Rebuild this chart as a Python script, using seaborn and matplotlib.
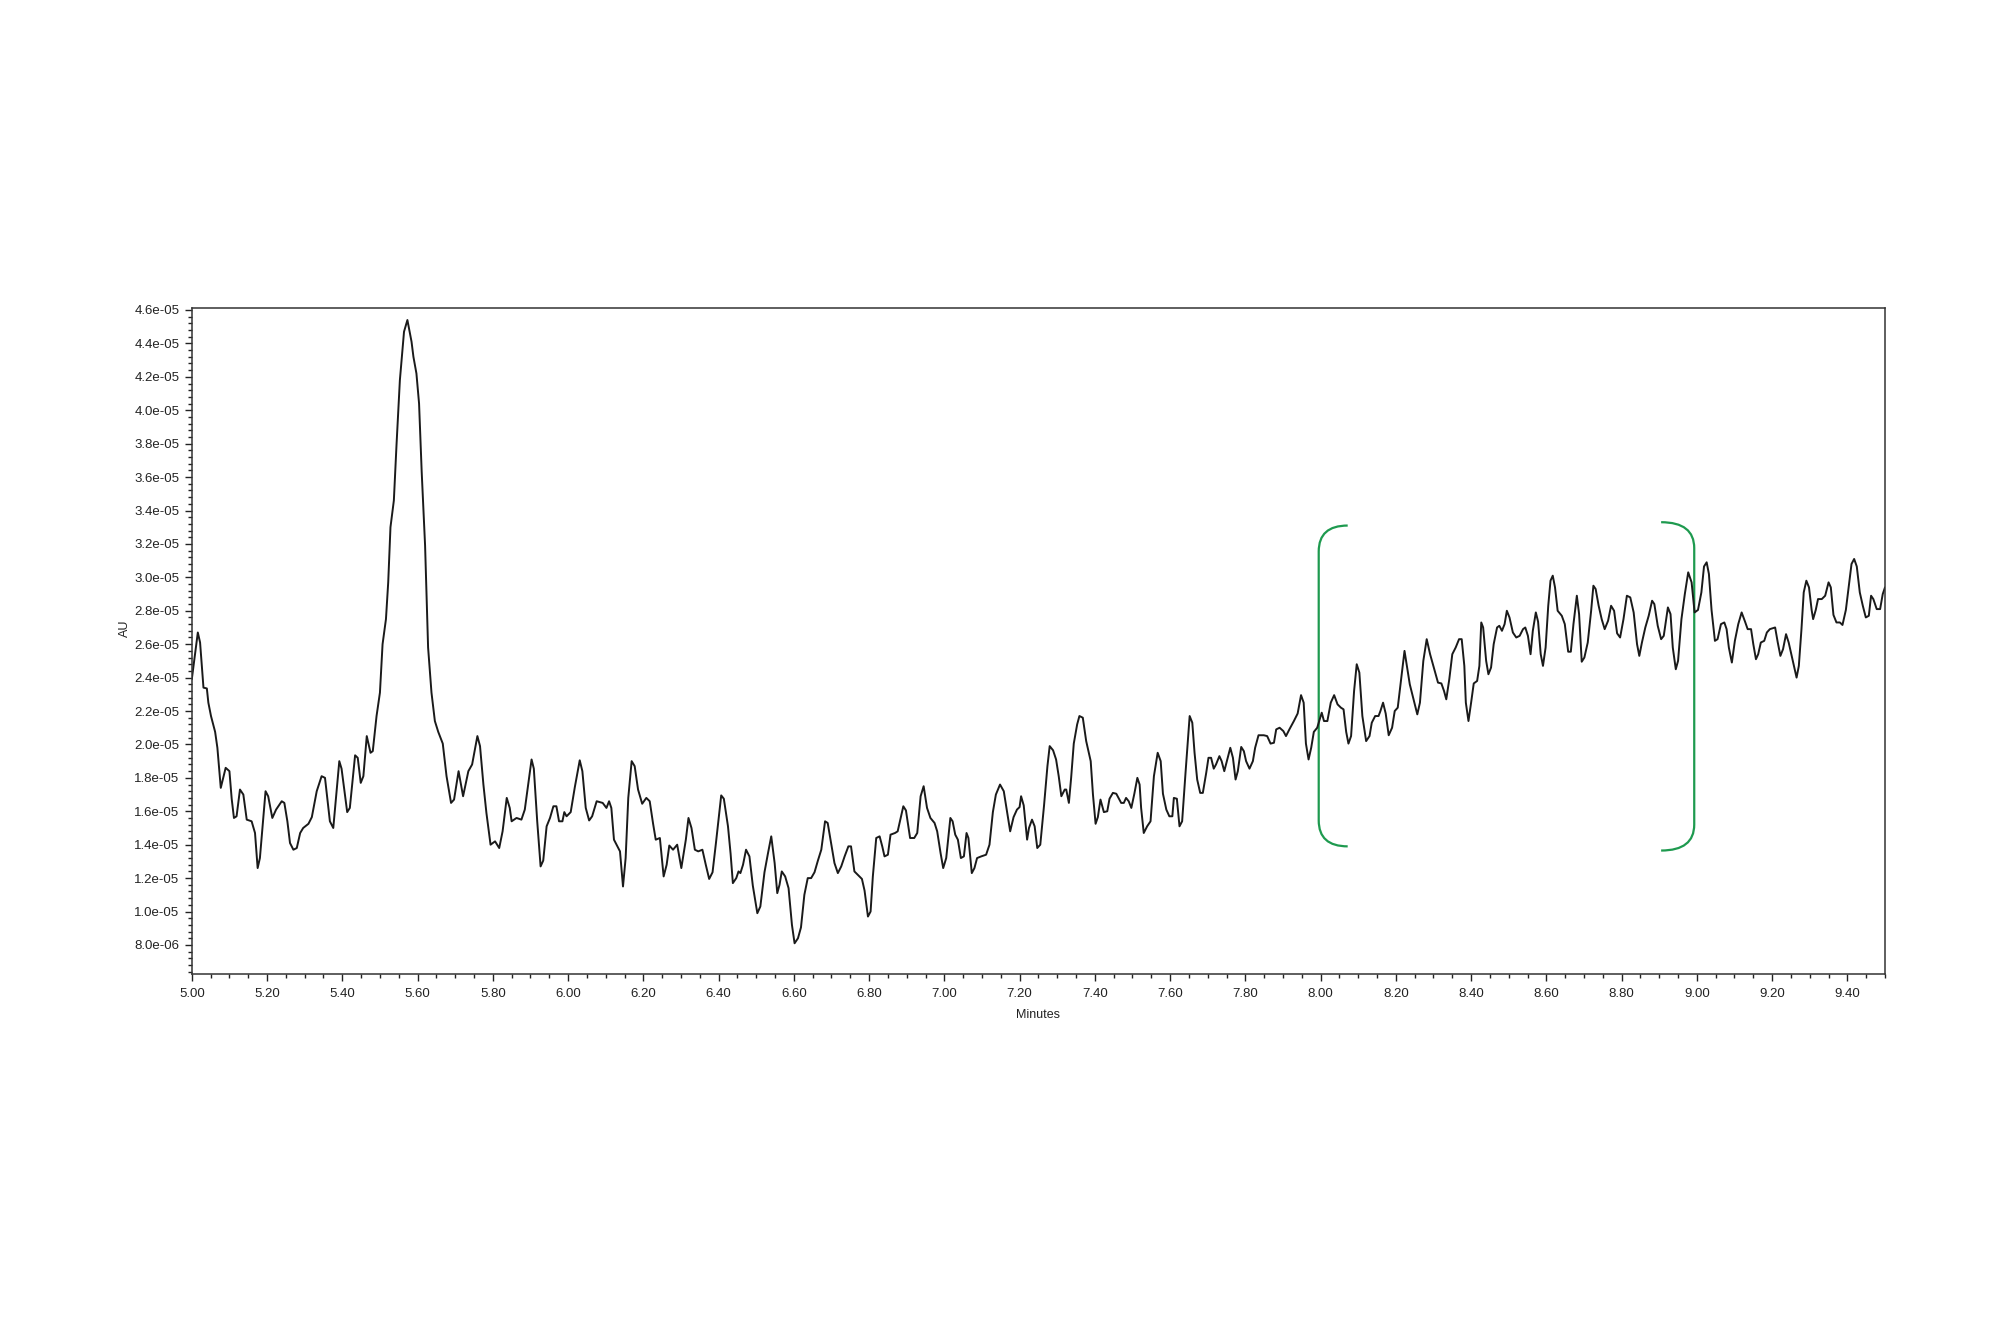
import matplotlib
matplotlib.use("Agg")
import matplotlib.pyplot as plt
from matplotlib.path import Path
from matplotlib.patches import PathPatch
from matplotlib.ticker import MultipleLocator, FuncFormatter
import numpy as np
import pandas as pd
import seaborn as sns

# trace: retention time (min) and absorbance in 1e-6 AU
minutes = [
    5.000, 5.016, 5.022, 5.031, 5.040, 5.044, 5.051, 5.062, 5.068, 5.077,
    5.090, 5.100, 5.106, 5.112, 5.119, 5.128, 5.137, 5.146, 5.159, 5.168,
    5.175, 5.181, 5.196, 5.203, 5.214, 5.224, 5.239, 5.246, 5.254, 5.261,
    5.270, 5.279, 5.288, 5.296, 5.310, 5.319, 5.332, 5.345, 5.354, 5.367,
    5.376, 5.392, 5.398, 5.413, 5.420, 5.434, 5.441, 5.449, 5.456, 5.465,
    5.475, 5.481, 5.491, 5.500, 5.507, 5.516, 5.522, 5.528, 5.537, 5.544,
    5.553, 5.564, 5.573,
    5.584, 5.589, 5.597, 5.604, 5.611, 5.620, 5.628, 5.637, 5.646, 5.655,
    5.667, 5.677, 5.689, 5.697, 5.709, 5.721, 5.735, 5.745, 5.759, 5.766,
    5.775, 5.783, 5.794, 5.806, 5.817, 5.826, 5.837, 5.845, 5.850, 5.863,
    5.876, 5.885, 5.894, 5.903, 5.909, 5.918, 5.927, 5.934, 5.943, 5.952,
    5.961, 5.969, 5.976, 5.985, 5.990, 5.996, 6.007, 6.018, 6.031, 6.038,
    6.047, 6.056, 6.064, 6.076, 6.092, 6.102, 6.109, 6.115, 6.122, 6.129,
    6.138, 6.146, 6.153, 6.160, 6.169, 6.177, 6.186, 6.197, 6.208, 6.217,
    6.226, 6.233, 6.244, 6.254, 6.262, 6.269, 6.279, 6.290, 6.301, 6.313,
    6.320, 6.328, 6.337, 6.346, 6.357, 6.366, 6.375, 6.384, 6.393,
    6.407, 6.414, 6.425, 6.432, 6.438, 6.447, 6.453, 6.458, 6.465, 6.473,
    6.482, 6.491, 6.503, 6.511, 6.522, 6.531, 6.540, 6.549, 6.556, 6.562,
    6.568, 6.577, 6.586, 6.595, 6.602, 6.611, 6.619, 6.628, 6.637, 6.646,
    6.655, 6.664, 6.673, 6.683, 6.690, 6.699, 6.708, 6.717, 6.726, 6.735,
    6.745, 6.752, 6.761, 6.770, 6.781, 6.788, 6.797, 6.804, 6.810, 6.819,
    6.828, 6.835, 6.841, 6.850, 6.857, 6.869, 6.876, 6.883, 6.891, 6.898,
    6.909, 6.920, 6.928, 6.937, 6.945, 6.954, 6.963, 6.974, 6.981, 6.990,
    6.997, 7.005, 7.016, 7.022, 7.029, 7.036, 7.044, 7.052, 7.059, 7.064,
    7.073, 7.080, 7.087, 7.098, 7.111, 7.120, 7.129, 7.137, 7.148, 7.158,
    7.167, 7.175, 7.184, 7.193,
    7.200, 7.204, 7.211, 7.220, 7.225, 7.233, 7.240, 7.247, 7.255, 7.265,
    7.274, 7.280, 7.289, 7.297, 7.304, 7.311, 7.320, 7.324, 7.331, 7.337,
    7.344, 7.353, 7.359, 7.368, 7.377, 7.389, 7.395, 7.402, 7.408, 7.415,
    7.424, 7.433, 7.439, 7.448, 7.457, 7.463, 7.470, 7.477, 7.483, 7.490,
    7.497, 7.505, 7.513, 7.519, 7.523, 7.530, 7.539, 7.548, 7.557, 7.567,
    7.575, 7.581, 7.590, 7.598, 7.606, 7.610, 7.618, 7.625, 7.632, 7.641,
    7.652, 7.659, 7.665, 7.672, 7.680, 7.687, 7.696, 7.702, 7.709, 7.716,
    7.722, 7.731, 7.737, 7.744, 7.753, 7.760, 7.767, 7.774, 7.780, 7.789,
    7.796, 7.802, 7.811, 7.820, 7.826, 7.835, 7.849, 7.858, 7.867, 7.876,
    7.882, 7.891, 7.901, 7.908, 7.917, 7.929, 7.939, 7.948, 7.955, 7.961,
    7.968, 7.975, 7.982, 7.991,
    8.003, 8.009, 8.018, 8.027, 8.036, 8.045, 8.054, 8.061, 8.068, 8.074,
    8.081, 8.089, 8.096, 8.103, 8.111, 8.121, 8.130, 8.136, 8.145, 8.154,
    8.159, 8.166, 8.173, 8.181, 8.190, 8.197, 8.205, 8.214, 8.223, 8.230,
    8.237, 8.246, 8.257, 8.264, 8.273, 8.282, 8.291, 8.302, 8.312, 8.321,
    8.328, 8.334, 8.342, 8.350, 8.359, 8.368, 8.375, 8.382, 8.386, 8.393,
    8.400, 8.407, 8.416, 8.422, 8.427, 8.432, 8.440, 8.446, 8.453, 8.460,
    8.469, 8.475, 8.482, 8.489, 8.495, 8.502, 8.511, 8.520, 8.529, 8.538,
    8.544, 8.551, 8.558, 8.564, 8.572, 8.578, 8.585, 8.591, 8.598, 8.605,
    8.611, 8.617, 8.623, 8.630, 8.641, 8.649, 8.658, 8.665, 8.672, 8.681,
    8.687, 8.694, 8.701, 8.710, 8.719, 8.725, 8.731,
    8.739, 8.747, 8.755, 8.764, 8.772, 8.780, 8.788, 8.796, 8.805, 8.814,
    8.823, 8.832, 8.841, 8.847, 8.854, 8.863, 8.872, 8.881, 8.887, 8.896,
    8.905, 8.912, 8.923, 8.930, 8.936, 8.944, 8.950, 8.959, 8.968, 8.977,
    8.986, 8.994, 9.003, 9.012, 9.019, 9.026, 9.032, 9.039, 9.048, 9.055,
    9.064, 9.073, 9.079, 9.085, 9.093, 9.101, 9.110, 9.119, 9.128, 9.135,
    9.144, 9.150, 9.157, 9.163, 9.170, 9.179, 9.186, 9.194, 9.208, 9.215,
    9.222, 9.229, 9.237, 9.244, 9.251, 9.258, 9.265, 9.271, 9.278, 9.284,
    9.291, 9.298, 9.305, 9.309, 9.316, 9.322, 9.332, 9.341, 9.350, 9.356,
    9.363, 9.371, 9.380, 9.387, 9.396, 9.405, 9.411, 9.418, 9.425, 9.433,
    9.441, 9.449, 9.457, 9.463, 9.469, 9.478, 9.487, 9.494, 9.500,
]

au_micro = [
    23.9, 26.7, 26.1, 23.4, 23.35, 22.5, 21.7, 20.75, 19.8, 17.4,
    18.6, 18.4, 16.75, 15.6, 15.7, 17.3, 17.0, 15.5, 15.4, 14.7,
    12.6, 13.2, 17.2, 16.9, 15.6, 16.1, 16.6, 16.5, 15.4, 14.1,
    13.7, 13.8, 14.7, 15.0, 15.25, 15.65, 17.2, 18.1, 18.0, 15.4,
    15.0, 19.0, 18.55, 15.95, 16.2, 19.35, 19.2, 17.7, 18.1, 20.5,
    19.5, 19.6, 21.7, 23.1, 26.0, 27.5, 29.7, 33.0, 34.6, 37.9,
    41.8, 44.7, 45.4,
    44.1, 43.2, 42.2, 40.4, 36.3, 31.9, 25.8, 23.1, 21.4, 20.75,
    20.05, 18.1, 16.5, 16.7, 18.4, 16.9, 18.4, 18.8, 20.5, 19.9,
    17.6, 15.9, 14.0, 14.2, 13.8, 14.8, 16.8, 16.2, 15.4, 15.6,
    15.5, 16.1, 17.6, 19.1, 18.55, 15.4, 12.7, 13.05, 15.1, 15.6,
    16.3, 16.3, 15.4, 15.4, 15.95, 15.7, 15.95, 17.45, 19.05, 18.4,
    16.2, 15.45, 15.7, 16.6, 16.5, 16.2, 16.6, 16.2, 14.3, 14.0,
    13.6, 11.5, 13.2, 16.8, 19.0, 18.7, 17.3, 16.45, 16.8, 16.6,
    15.25, 14.3, 14.4, 12.1, 12.8, 13.95, 13.7, 14.0, 12.6, 14.3,
    15.6, 15.0, 13.7, 13.6, 13.7, 12.8, 11.95, 12.35, 14.1,
    16.95, 16.75, 15.1, 13.45, 11.7, 12.0, 12.4, 12.3, 12.8, 13.7,
    13.3, 11.55, 9.9, 10.3, 12.35, 13.45, 14.5, 12.9, 11.1, 11.6,
    12.4, 12.1, 11.4, 9.2, 8.1, 8.4, 9.05, 11.0, 12.0, 12.0,
    12.35, 13.05, 13.7, 15.4, 15.3, 14.1, 12.9, 12.3, 12.7, 13.3,
    13.9, 13.9, 12.4, 12.2, 11.95, 11.25, 9.7, 10.0, 12.1, 14.4,
    14.5, 13.9, 13.3, 13.4, 14.6, 14.7, 14.8, 15.5, 16.3, 16.05,
    14.4, 14.4, 14.7, 16.9, 17.5, 16.2, 15.6, 15.3, 14.8, 13.5,
    12.6, 13.2, 15.6, 15.4, 14.6, 14.3, 13.2, 13.3, 14.7, 14.4,
    12.3, 12.6, 13.2, 13.3, 13.4, 14.0, 15.95, 17.0, 17.6, 17.2,
    15.95, 14.8, 15.65, 16.1,
    16.25, 16.9, 16.35, 14.3, 15.0, 15.5, 15.1, 13.8, 14.0, 16.35,
    18.7, 19.9, 19.65, 19.1, 18.1, 16.9, 17.3, 17.3, 16.5, 18.0,
    20.05, 21.2, 21.7, 21.6, 20.2, 19.0, 17.0, 15.25, 15.65, 16.7,
    15.95, 16.0, 16.75, 17.1, 17.05, 16.8, 16.5, 16.5, 16.8, 16.6,
    16.2, 17.05, 18.0, 17.6, 16.2, 14.7, 15.1, 15.4, 18.1, 19.5,
    19.0, 17.05, 16.1, 15.7, 15.7, 16.8, 16.75, 15.1, 15.4, 18.3,
    21.7, 21.3, 19.5, 17.9, 17.1, 17.1, 18.3, 19.2, 19.2, 18.55,
    18.8, 19.3, 19.0, 18.4, 19.2, 19.8, 19.2, 17.9, 18.4, 19.85,
    19.6, 19.0, 18.55, 19.0, 19.8, 20.55, 20.55, 20.5, 20.05, 20.1,
    20.9, 21.0, 20.8, 20.5, 20.9, 21.4, 21.85, 22.95, 22.5, 20.05,
    19.1, 19.8, 20.75, 21.0,
    21.9, 21.4, 21.4, 22.5, 22.95, 22.4, 22.2, 22.1, 20.75, 20.05,
    20.5, 23.2, 24.8, 24.3, 21.7, 20.2, 20.5, 21.3, 21.7, 21.7,
    22.0, 22.5, 21.85, 20.55, 21.0, 22.0, 22.2, 23.9, 25.6, 24.6,
    23.6, 22.8, 21.8, 22.5, 25.0, 26.3, 25.4, 24.5, 23.7, 23.65,
    23.2, 22.7, 23.9, 25.4, 25.8, 26.3, 26.3, 24.7, 22.5, 21.4,
    22.5, 23.65, 23.8, 24.7, 27.3, 27.0, 25.0, 24.2, 24.6, 26.0,
    27.0, 27.1, 26.8, 27.2, 28.0, 27.6, 26.7, 26.4, 26.5, 26.9,
    27.0, 26.5, 25.4, 26.8, 27.9, 27.35, 25.4, 24.7, 25.8, 28.3,
    29.8, 30.1, 29.4, 28.0, 27.7, 27.2, 25.55, 25.55, 27.2, 28.9,
    27.8, 24.95, 25.2, 26.1, 28.0, 29.5, 29.3,
    28.3, 27.5, 26.9, 27.4, 28.3, 28.0, 26.65, 26.4, 27.5, 28.9,
    28.8, 27.9, 26.0, 25.3, 26.1, 27.0, 27.7, 28.6, 28.4, 27.1,
    26.3, 26.5, 28.2, 27.8, 25.8, 24.5, 25.0, 27.5, 29.0, 30.3,
    29.7, 27.9, 28.05, 29.1, 30.65, 30.9, 30.2, 28.05, 26.2, 26.3,
    27.2, 27.3, 26.9, 25.8, 24.9, 26.2, 27.2, 27.9, 27.35, 26.9,
    26.9, 26.0, 25.1, 25.4, 26.1, 26.2, 26.7, 26.9, 27.0, 26.1,
    25.3, 25.7, 26.6, 26.1, 25.4, 24.7, 24.0, 24.7, 26.9, 29.1,
    29.8, 29.4, 28.05, 27.5, 28.05, 28.7, 28.7, 28.9, 29.7, 29.4,
    27.75, 27.3, 27.3, 27.15, 28.05, 29.7, 30.8, 31.1, 30.65, 29.1,
    28.3, 27.6, 27.7, 28.9, 28.7, 28.1, 28.1, 29.0, 29.4,
]

# green noise-window brackets: (vertical time, tip time, top level, bottom level)
bracket_left = (7.995, 8.072, 33.1, 13.9)
bracket_right = (8.993, 8.905, 33.3, 13.65)
bracket_curve = 1.55

df = pd.DataFrame({"Minutes": minutes, "AU": np.array(au_micro) * 1e-6})

sns.set_style("ticks")
plt.rcParams["font.family"] = ["Liberation Sans", "DejaVu Sans"]

fig = plt.figure(figsize=(20, 13.33), dpi=100)
ax = fig.add_axes([0.0959, 0.2693, 0.8466, 0.4994])

sns.lineplot(data=df, x="Minutes", y="AU", ax=ax, color="#1a1a1a",
             linewidth=1.4, estimator=None)


def draw_bracket(ax, spec, curve):
    xv, xt, top, bot = spec
    top, bot, curve = top * 1e-6, bot * 1e-6, curve * 1e-6
    verts = [(xt, top), (xv, top), (xv, top - curve),
             (xv, bot + curve), (xv, bot), (xt, bot)]
    codes = [Path.MOVETO, Path.CURVE3, Path.CURVE3,
             Path.LINETO, Path.CURVE3, Path.CURVE3]
    ax.add_patch(PathPatch(Path(verts, codes), fill=False,
                           edgecolor="#1e9a4f", linewidth=1.6))


draw_bracket(ax, bracket_left, bracket_curve)
draw_bracket(ax, bracket_right, bracket_curve)

ax.set_xlim(5.0, 9.5)
ax.set_ylim(6.26e-6, 4.61e-5)

ax.xaxis.set_major_locator(MultipleLocator(0.2))
ax.xaxis.set_minor_locator(MultipleLocator(0.05))
ax.xaxis.set_major_formatter(FuncFormatter(lambda v, p: f"{v:.2f}"))
ax.yaxis.set_major_locator(MultipleLocator(2e-6))
ax.yaxis.set_minor_locator(MultipleLocator(4e-7))
ax.yaxis.set_major_formatter(FuncFormatter(lambda v, p: f"{v:.1e}"))

ax.tick_params(which="major", direction="out", length=5, width=1.0,
               color="#222222", labelsize=9.5, labelcolor="#222222", pad=4)
ax.tick_params(axis="x", which="major", pad=5)
ax.tick_params(which="minor", direction="out", length=3, width=1.0,
               color="#222222")

for side in ["top", "right", "left", "bottom"]:
    ax.spines[side].set_visible(True)
    ax.spines[side].set_color("#333333")
    ax.spines[side].set_linewidth(1.1)

ax.set_xlabel("Minutes", fontsize=9, color="#222222")
ax.set_ylabel("AU", fontsize=9, color="#222222")
ax.xaxis.set_label_coords(0.5, -0.053)
ax.yaxis.set_label_coords(-0.036, 0.52)

fig.savefig("out.png", dpi=100, facecolor="white")
